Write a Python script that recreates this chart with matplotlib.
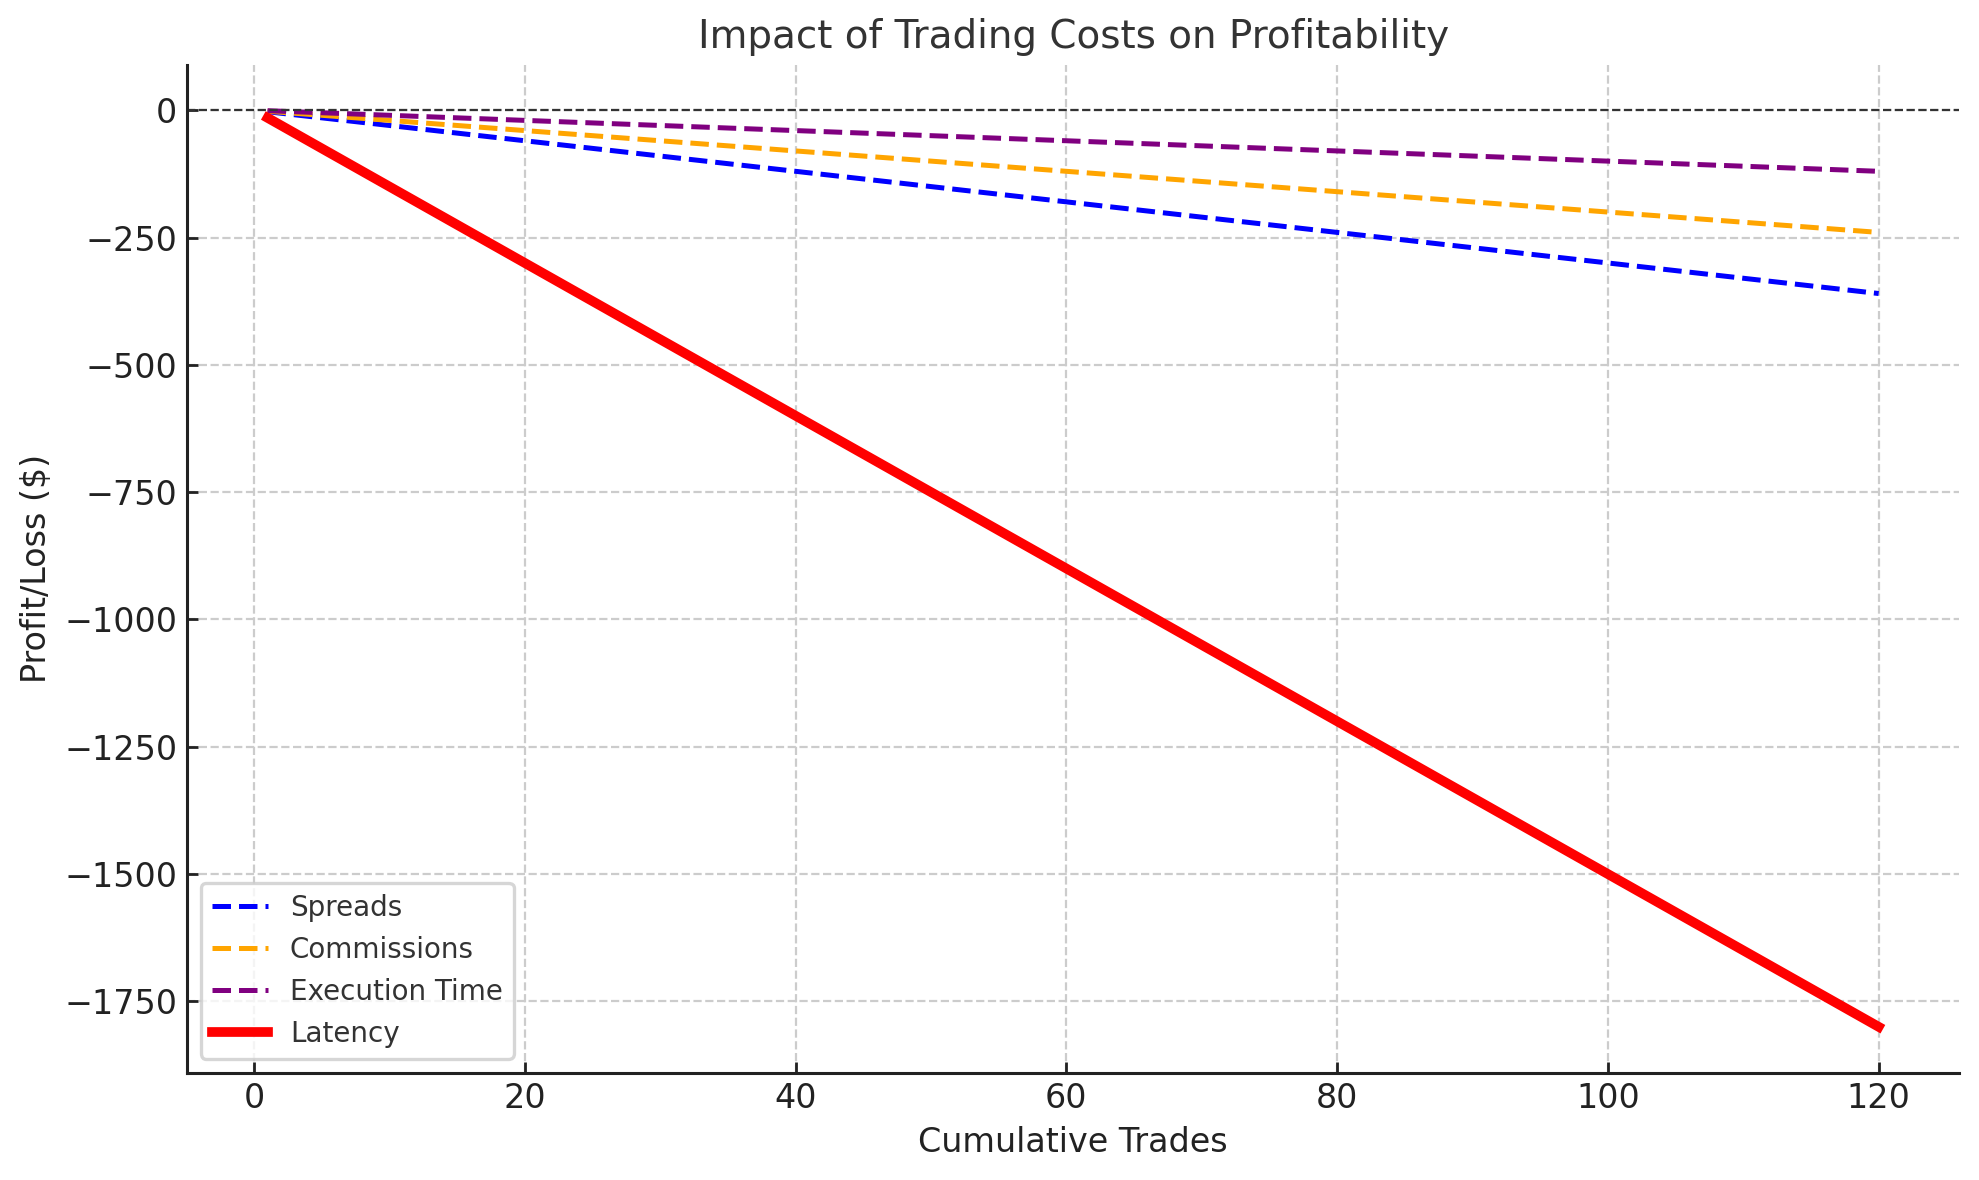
import matplotlib
matplotlib.use("Agg")
from matplotlib import pyplot as plt

# cumulative trades (line endpoints)
trades = [1, 120]

# profit/loss read at the first and last trade
spreads = [-3, -360]
commissions = [-2, -240]
execution_time = [-1, -120]
latency = [-15, -1800]

plt.rcParams['font.family'] = ['DejaVu Sans']

fig = plt.figure(figsize=(9.895, 5.9), dpi=200)
ax = fig.add_axes([0.0945, 0.091, 0.8955, 0.854])

ax.plot(trades, spreads, color='blue', linestyle='--', lw=1.8, label='Spreads')
ax.plot(trades, commissions, color='orange', linestyle='--', lw=1.8, label='Commissions')
ax.plot(trades, execution_time, color='purple', linestyle='--', lw=1.8, label='Execution Time')
ax.plot(trades, latency, color='red', linestyle='-', lw=3.5, label='Latency')

ax.axhline(0, color='#333333', linestyle='--', lw=0.8)

ax.set_title('Impact of Trading Costs on Profitability', fontsize=14, color='#333333')
ax.set_xlabel('Cumulative Trades', fontsize=12, color='#222222')
ax.set_ylabel('Profit/Loss ($)', fontsize=12, color='#222222')

ax.set_xticks([0, 20, 40, 60, 80, 100, 120])
ax.set_yticks([0, -250, -500, -750, -1000, -1250, -1500, -1750])
ax.tick_params(direction='in', labelsize=12, colors='#222222', length=4, width=1)

ax.grid(True, linestyle='--', color='#cccccc', lw=0.8)
ax.set_axisbelow(True)
for side in ['top', 'right']:
    ax.spines[side].set_visible(False)
for side in ['left', 'bottom']:
    ax.spines[side].set_color('#222222')
    ax.spines[side].set_linewidth(1.1)

leg = ax.legend(loc='lower left', fontsize=10, frameon=True, fancybox=True)
leg.get_frame().set_edgecolor('#cccccc')
leg.get_frame().set_linewidth(1.2)
for t in leg.get_texts():
    t.set_color('#333333')

fig.savefig('out.png', dpi=200)
